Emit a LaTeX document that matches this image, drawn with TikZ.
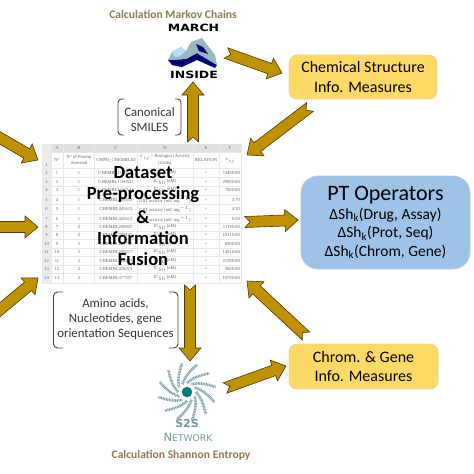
\documentclass[tikz,border=0pt]{standalone}
\usepackage{fontspec}
\setmainfont{Carlito}
\newfontfamily\tablefont{Liberation Serif}
\newfontfamily\logofont{DejaVu Sans}
\usepackage{xcolor}
\usetikzlibrary{calc,positioning}
\definecolor{arrowgold}{HTML}{BF9000}
\definecolor{arrowline}{HTML}{4A3C08}
\definecolor{boxyellow}{HTML}{FFD966}
\definecolor{boxblue}{HTML}{9DC3E6}
\definecolor{captionbrown}{HTML}{8A7B55}
\definecolor{swirlteal}{HTML}{6F9AA3}
\tikzset{
  infobox/.style={draw=#1!85!black!60,fill=#1,line width=0.7pt,rounded corners=8pt,align=center,inner sep=0pt},
  caption/.style={text=captionbrown,font=\fontsize{11.6}{14}\selectfont\bfseries},
  bracketlabel/.style={text=black!80,align=center,font=\fontsize{12.8}{15}\selectfont},
  celltext/.style={text=black!60,font=\tablefont\fontsize{4.6}{5.2}\selectfont,inner sep=0pt,align=center},
  titleline/.style={font=\fontsize{18.5}{20}\selectfont\bfseries,inner sep=0pt},
}
% block arrow with a notched tail
\newcommand{\blockarrow}[2]{%
  \coordinate (hb) at ($(#2)!13pt!(#1)$);
  \coordinate (nt) at ($(#1)!5pt!(#2)$);
  \draw[draw=arrowline,fill=arrowgold,line width=0.6pt,line join=miter]
    (#2) -- ($(hb)!11pt!90:(#2)$) -- ($(hb)!5.5pt!90:(#2)$) -- ($(#1)!5.5pt!90:(#2)$)
    -- (nt) -- ($(#1)!5.5pt!-90:(#2)$) -- ($(hb)!5.5pt!-90:(#2)$) -- ($(hb)!11pt!-90:(#2)$) -- cycle;
}
\begin{document}
\begin{tikzpicture}[x=1pt,y=-1pt]
\useasboundingbox (0,0) rectangle (474,474);
\clip (0,0) rectangle (474,474);
% ----- table -----
\node[minimum width=199pt,minimum height=139pt,inner sep=0pt,fill=white] (table) at (141.5,213.5) {};
\fill[black!12] (42,144) rectangle (241,152);
\fill[black!7] (42,144) rectangle (51,283);
\draw[black!9,line width=0.3pt] (42,152) -- (241,152);
\draw[black!9,line width=0.3pt] (42,168) -- (241,168);
\foreach \yy in {177.5,186,195,204.5,214,223,231,239.5,248,256.5,265,273.5,283}
  \draw[black!9,line width=0.3pt] (42,\yy) -- (241,\yy);
\foreach \xx in {42,51,63,94,137,193,219,241}
  \draw[black!9,line width=0.3pt] (\xx,144) -- (\xx,283);
\foreach \xx/\cc in {57/A,79/B,116/C,165/D,206/E,230/F}
  \node[celltext] at (\xx,148) {\cc};
\node[celltext] at (57,160) {N°};
\node[celltext] at (79,160) {N° of Protein\\Assessed};
\node[celltext] at (116,160) {CMPD\_CHEMBLID};
\node[celltext] at (165,160) {$\varepsilon_{ij}$ = Biological Activity\\(Units)};
\node[celltext] at (206,160) {RELATION};
\node[celltext] at (230,161) {$\nu_{ij}$};
\node[celltext] at (46.5,165) {1};
\foreach \rn/\yy/\pp/\cid/\act/\val in {
  1/173/1/CHEMBL1160542/IC$_{50}$ (nM)/74400.00,
  2/182/1/CHEMBL1160543/IC$_{50}$ (nM)/29000.00,
  3/190/1/CHEMBL1160544/IC$_{50}$ (nM)/7000.00,
  4/200/1/CHEMBL445612/GST activity (mU mg$^{-1}$)/3.70,
  5/209/1/CHEMBL445613/GST activity (mU mg$^{-1}$)/4.30,
  6/219/1/CHEMBL445613/GST activity (mU mg$^{-1}$)/0.50,
  7/227/2/CHEMBL208047/IC$_{50}$ (nM)/11190.00,
  8/235/2/CHEMBL209147/IC$_{50}$ (nM)/10310.00,
  9/244/2/CHEMBL207752/IC$_{50}$ (nM)/9500.00,
  10/252/2/CHEMBL208217/IC$_{50}$ (nM)/14010.00,
  11/261/2/CHEMBL208417/IC$_{50}$ (nM)/21390.00,
  12/269/2/CHEMBL428312/IC$_{50}$ (nM)/5000.00,
  13/278/2/CHEMBL377557/IC$_{50}$ (nM)/10790.00}{
  \pgfmathtruncatemacro{\rowno}{\rn+1}
  \node[celltext] at (46.5,\yy) {\rowno};
  \node[celltext] at (57,\yy) {\rn};
  \node[celltext] at (79,\yy) {\pp};
  \node[celltext] at (116,\yy) {\cid};
  \node[celltext] at (165,\yy) {\act};
  \node[celltext] at (206,\yy) {=};
  \node[celltext,anchor=east] at (240,\yy) {\val};
}
\node[titleline] (title1) at (143,173) {Dataset};
\node[titleline] (title2) at (143,195) {Pre-processing};
\node[titleline] (title3) at (143,217) {\&};
\node[titleline] (title4) at (143,238) {Information};
\node[titleline] (title5) at (143,259) {Fusion};
% ----- boxes -----
\node[infobox=boxyellow,minimum width=148pt,minimum height=44pt,font=\fontsize{16}{19.5}\selectfont] (chem) at (363,77) {Chemical Structure\\Info. Measures};
\node[infobox=boxyellow,minimum width=149pt,minimum height=45pt,font=\fontsize{16}{19.5}\selectfont] (chrom) at (363.5,366.5) {Chrom. \& Gene\\Info. Measures};
\node[infobox=boxblue,rounded corners=17pt,minimum width=169pt,minimum height=93pt,font=\fontsize{15.5}{18.5}\selectfont] (pt) at (385.5,222.5)
  {{\fontsize{22}{28}\selectfont PT Operators}\\[0pt]ΔSh\textsubscript{k}(Drug, Assay)\\ΔSh\textsubscript{k}(Prot, Seq)\\ΔSh\textsubscript{k}(Chrom, Gene)};
% ----- captions and bracket labels -----
\node[caption] (markov) at (173,14) {Calculation Markov Chains};
\node[caption] (shannon) at (181,455) {Calculation Shannon Entropy};
\node[bracketlabel] (smiles) at (149.5,119.5) {Canonical\\SMILES};
\node[bracketlabel] (amino) at (115.5,319) {Amino acids,\\Nucleotides, gene\\orientation Sequences};
\draw[black!75,line width=0.9pt,rounded corners=3.5pt] (124,99) -- (118,99) -- (118,135) -- (124,135);
\draw[black!75,line width=0.9pt,rounded corners=3.5pt] (175,99) -- (181,99) -- (181,135) -- (175,135);
\draw[black!75,line width=0.9pt,rounded corners=4pt] (63,292) -- (53.5,292) -- (53.5,348) -- (63,348);
\draw[black!75,line width=0.9pt,rounded corners=4pt] (169,292) -- (178,292) -- (178,348) -- (169,348);
% ----- MARCH INSIDE logo -----
\node[inner sep=0pt,xscale=1.25,font=\logofont\fontsize{10}{10}\selectfont\bfseries] (march) at (193.5,28) {MARCH};
\node[inner sep=0pt,xscale=1.25,font=\logofont\fontsize{10}{10}\selectfont\bfseries] (inside) at (194,75) {INSIDE};
\fill[blue!45!black] (168,60) -- (186,59) -- (197,53) -- (217,65) -- (215,68) -- (197,60) -- (182,67) -- (172,65) -- cycle;
\fill[blue!25!cyan!25!gray!65] (168,60) -- (172,52) -- (181,47) -- (186,51) -- (191,42) -- (202,38) -- (215,55) -- (217,65) -- (197,53) -- (186,59) -- cycle;
\fill[blue!40!cyan!30!white] (172,52) -- (181,47) -- (186,51) -- (180,56) -- (175,57) -- cycle;
\fill[blue!45!black] (196,44) -- (203,47) -- (208,54) -- (199,51) -- cycle;
% ----- S2S logo -----
\foreach \aa in {0,30,...,330}{
  \draw[swirlteal,line width=2.6pt,dash pattern=on 0.9pt off 0.7pt] ([shift={(\aa:9)}]187,392) .. controls ([shift={(\aa+25:17)}]187,392) and ([shift={(\aa+40:22)}]187,392) .. ([shift={(\aa+50:29)}]187,392);
}
\fill[white] (187,392) circle (7.5);
\fill[teal!80!cyan!80!black] (187,392) circle (5.2);
\node[inner sep=0pt,text=swirlteal,font=\logofont\fontsize{11}{11}\selectfont\bfseries] (s2s) at (187,423) {S2S};
\node[inner sep=0pt,text=swirlteal,font=\logofont\fontsize{11.5}{11}\selectfont] (network) at (188,437) {N{\fontsize{9.2}{9}\selectfont ETWORK}};
% ----- arrows -----
\coordinate (leftA) at (-12,131);
\coordinate (leftAtip) at (38,160);
\coordinate (leftB) at (-12,227);
\coordinate (leftBtip) at (38,227);
\coordinate (leftC) at (-10,318);
\coordinate (leftCtip) at (38,278);
\coordinate (tableup) at (193,142);
\coordinate (marchin) at (193,82);
\coordinate (marchout) at (226,53);
\coordinate (chemin) at (282,73);
\coordinate (chemout) at (310,107);
\coordinate (tablein) at (247,155);
\coordinate (tabledown) at (190,285);
\coordinate (s2sin) at (190,361);
\coordinate (s2sout) at (225,388);
\coordinate (chromin) at (286,366);
\coordinate (chromout) at (306,336);
\coordinate (tablelow) at (247,281);
\coordinate (tableright) at (245,222);
\coordinate (ptin) at (298,220);
\blockarrow{leftA}{leftAtip}
\blockarrow{leftB}{leftBtip}
\blockarrow{leftC}{leftCtip}
\blockarrow{tableup}{marchin}
\blockarrow{marchout}{chemin}
\blockarrow{chemout}{tablein}
\blockarrow{tabledown}{s2sin}
\blockarrow{s2sout}{chromin}
\blockarrow{chromout}{tablelow}
\blockarrow{tableright}{ptin}
\end{tikzpicture}
\end{document}
